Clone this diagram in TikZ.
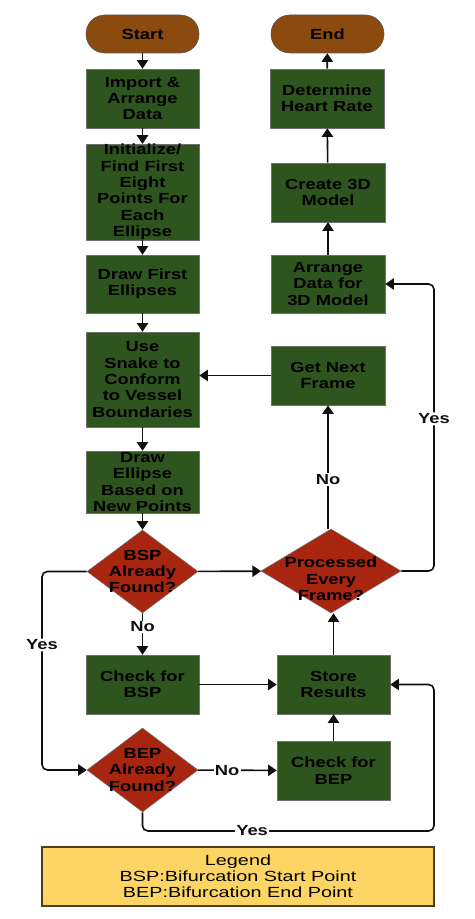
\documentclass[tikz,border=0pt]{standalone}
\usepackage{fontspec}
\usepackage{tikz}
\usetikzlibrary{arrows.meta,positioning,shapes.geometric}
\newfontfamily\flowfont[FakeStretch=1.25]{Liberation Sans}
\newfontfamily\legendfont[FakeStretch=1.35]{Liberation Sans}
\definecolor{cTerm}{HTML}{8B4A0E}
\definecolor{cProc}{HTML}{2F551E}
\definecolor{cDec}{HTML}{A8250F}
\definecolor{cLeg}{HTML}{FDD565}
\definecolor{cLegLine}{HTML}{4D4020}
\definecolor{cLine}{HTML}{101010}
\tikzset{
  term/.style={draw=cLine!70, fill=cTerm, thin, rounded corners=14pt,
               minimum width=84.75pt, minimum height=28.5pt, inner sep=0pt,
               font=\flowfont\fontsize{11}{12.3}\selectfont\bfseries},
  proc/.style={draw=cLine!60, fill=cProc, thin, minimum width=84.75pt,
               inner sep=0pt, align=center,
               font=\flowfont\fontsize{11}{12.3}\selectfont\bfseries},
  decision/.style={diamond, draw=cLine!60, fill=cDec, thin, inner sep=0pt,
                   minimum width=83.25pt, minimum height=62.25pt},
  dectext/.style={align=center, inner sep=0pt,
                  font=\flowfont\fontsize{11}{12.3}\selectfont\bfseries},
  legendbox/.style={draw=cLegLine, fill=cLeg, line width=0.9pt,
                    minimum width=294pt, minimum height=44.25pt, inner sep=0pt,
                    align=center, font=\legendfont\fontsize{11}{12.1}\selectfont},
  arr/.style={-{Triangle[length=6.5pt,width=8.5pt]}, line width=1.2pt, cLine},
  lbl/.style={fill=white, inner sep=1pt,
              font=\flowfont\fontsize{11}{12.3}\selectfont\bfseries}
}
\begin{document}
\begin{tikzpicture}[x=0.75pt, y=-0.75pt]
\useasboundingbox[fill=white] (0,0) rectangle (474,919);
% left column
\node[term] (start) at (142.5,34) {Start};
\node[proc, minimum height=44.25pt] (import) at (142.5,98.5) {Import \&\\Arrange\\Data};
\node[proc, minimum height=70.5pt] (init) at (142.5,192) {Initialize/\\Find First\\Eight\\Points For\\Each\\Ellipse};
\node[proc, minimum height=43.5pt] (drawfirst) at (142.5,284) {Draw First\\Ellipses};
\node[proc, minimum height=71.25pt] (snake) at (142.5,379.5) {Use\\Snake to\\Conform\\to Vessel\\Boundaries};
\node[proc, minimum height=46.5pt] (drawell) at (142.5,482) {Draw\\Ellipse\\Based on\\New Points};
\node[decision, label={[dectext]center:{BSP\\Already\\Found?}}] (bsp) at (142.5,571.5) {};
\node[proc, minimum height=44.25pt] (checkbsp) at (142.5,684.5) {Check for\\BSP};
\node[decision, minimum height=63pt, label={[dectext]center:{BEP\\Already\\Found?}}] (bep) at (142.5,770) {};
% right column
\node[term] (endn) at (327.5,34) {End};
\node[proc, minimum width=85.5pt, minimum height=44.25pt] (heart) at (327,98.5) {Determine\\Heart Rate};
\node[proc, minimum width=85.5pt, minimum height=44.25pt] (create3d) at (328,192.5) {Create 3D\\Model};
\node[proc, minimum width=85.5pt, minimum height=43.5pt] (arrange) at (328,284) {Arrange\\Data for\\3D Model};
\node[proc, minimum width=85.5pt, minimum height=44.25pt] (getnext) at (328,375.5) {Get Next\\Frame};
\node[decision, minimum width=105pt, minimum height=63pt,
      label={[dectext, yshift=-6pt]center:{Processed\\Every\\Frame?}}] (processed) at (331,571) {};
\node[proc, minimum height=44.25pt] (store) at (333.5,684.5) {Store\\Results};
\node[proc, minimum height=44.25pt] (checkbep) at (333.5,770.5) {Check for\\BEP};
% legend
\node[legendbox] (legend) at (238,876.5) {Legend\\BSP:Bifurcation Start Point\\BEP:Bifurcation End Point};
% corners of the loops
\coordinate (lft) at (42,0);
\coordinate (rgt) at (434,0);
\coordinate (bot) at (0,831);
% connectors
\draw[arr] (start) -- (import);
\draw[arr] (import) -- (init);
\draw[arr] (init) -- (drawfirst);
\draw[arr] (drawfirst) -- (snake);
\draw[arr] (snake) -- (drawell);
\draw[arr] (drawell) -- (bsp);
\draw[arr] (bsp) -- (processed);
\draw[arr] (bsp) -- node[lbl, pos=0.33] {No} (checkbsp);
\draw[arr, rounded corners=4pt] (bsp.west) -- (bsp.west -| lft)
  -- node[lbl, pos=0.37] {Yes} (bep.west -| lft) -- (bep.west);
\draw[arr] (checkbsp) -- (store);
\draw[arr] (bep) -- node[lbl, pos=0.37] {No} (checkbep);
\draw[arr] (checkbep) -- (store);
\draw[arr, rounded corners=4pt] (bep.south) -- (bep.south |- bot)
  -- node[lbl, pos=0.376] {Yes} (bot -| rgt) -- (store.east -| rgt) -- (store.east);
\draw[arr] (store) -- (store |- processed.south);
\draw[arr] (getnext.south |- processed.north) -- node[lbl, pos=0.4] {No} (getnext.south);
\draw[arr, rounded corners=4pt] (processed.east) -- (processed.east -| rgt)
  -- node[lbl, pos=0.53] {Yes} (arrange.east -| rgt) -- (arrange.east);
\draw[arr] (getnext.west) -- (getnext.west -| snake.east);
\draw[arr] (arrange) -- (create3d);
\draw[arr] (create3d) -- (heart);
\draw[arr] (heart) -- (endn);
\end{tikzpicture}
\end{document}
